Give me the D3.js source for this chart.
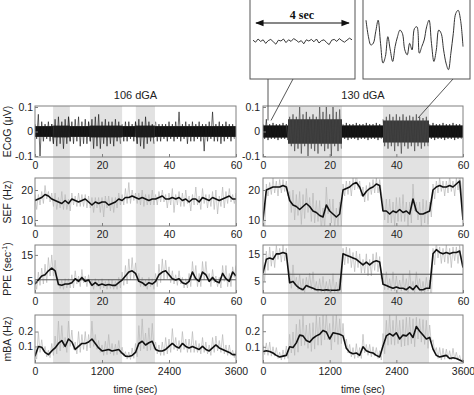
<!DOCTYPE html>
<html>
<head>
<meta charset="utf-8">
<script src="https://cdn.jsdelivr.net/npm/d3@7"></script>
<style>
  body { margin: 0; background: #fff; }
  svg { display: block; font-family: "Liberation Sans", Arial, sans-serif; }
</style>
</head>
<body>
<div id="chart"></div>
<script>
// sample grid, one value per minute
const minutes = d3.range(0, 61);

// shaded epochs (minutes)
const bandsLeft = [[5.4, 10.4], [16.4, 26], [30.1, 35.8]];
const bandsRight = [[7.5, 23.7], [36, 49.8]];

// ECoG envelope (mV) - spike tops / bottoms per minute, and dense core per epoch
const ecogLHi = [0.03,0.07,0.04,0.03,0.04,0.03,0.05,0.06,0.04,0.05, 0.06,0.04,0.05,0.06,0.04,0.05,0.04,0.05,0.06,0.07,
  0.04,0.05,0.04,0.04,0.05,0.04,0.03,0.04,0.04,0.03, 0.04,0.05,0.04,0.06,0.04,0.03,0.04,0.03,0.03,0.03,
  0.04,0.03,0.04,0.08,0.03,0.04,0.03,0.04,0.03,0.04, 0.03,0.03,0.04,0.08,0.03,0.04,0.03,0.04,0.03,0.03, 0.03];
const ecogLLo = [-0.03,-0.1,-0.04,-0.03,-0.04,-0.05,-0.06,-0.05,-0.07,-0.05, -0.04,-0.05,-0.04,-0.06,-0.05,-0.05,-0.04,-0.07,-0.06,-0.07,
  -0.05,-0.06,-0.05,-0.06,-0.04,-0.05,-0.04,-0.04,-0.03,-0.04, -0.05,-0.06,-0.07,-0.05,-0.04,-0.05,-0.04,-0.04,-0.03,-0.04,
  -0.03,-0.04,-0.03,-0.04,-0.03,-0.05,-0.04,-0.04,-0.03,-0.04, -0.08,-0.04,-0.03,-0.04,-0.04,-0.05,-0.04,-0.03,-0.04,-0.03, -0.03];
const ecogLCore = [0.022, 0.024, 0.022, 0.024, 0.022, 0.024, 0.022];

const ecogRHi = [0.03,0.05,0.03,0.035,0.03,0.03,0.035,0.03,
  0.06,0.07,0.06,0.1,0.07,0.08,0.06,0.07,0.06,0.1,0.08,0.1,0.07,0.1,0.08,0.09,
  0.03,0.035,0.03,0.03,0.035,0.03,0.03,0.035,0.03,0.03,0.035,0.03,
  0.05,0.06,0.07,0.06,0.07,0.06,0.07,0.06,0.065,0.06,0.07,0.06,0.055,0.06,
  0.03,0.035,0.03,0.03,0.035,0.03,0.03,0.035,0.03,0.03,0.03];
const ecogRLo = [-0.03,-0.035,-0.03,-0.03,-0.035,-0.03,-0.03,-0.035,
  -0.06,-0.08,-0.07,-0.09,-0.06,-0.1,-0.07,-0.08,-0.09,-0.06,-0.08,-0.07,-0.1,-0.06,-0.08,-0.07,
  -0.03,-0.035,-0.03,-0.03,-0.035,-0.03,-0.03,-0.035,-0.03,-0.03,-0.035,-0.03,
  -0.06,-0.07,-0.06,-0.08,-0.06,-0.09,-0.06,-0.07,-0.06,-0.08,-0.06,-0.07,-0.06,-0.06,
  -0.03,-0.035,-0.03,-0.03,-0.035,-0.03,-0.03,-0.035,-0.03,-0.03,-0.03];
const ecogRCore = [0.025, 0.05, 0.025, 0.045, 0.025];

// SEF (Hz): smoothed trace + raw spread above / below it
const sefL = [16.5,17,17.5,18.5,18,17,16.5,16,15.5,16.5, 15.5,17,16.5,16,16.5,17,16,15,16,15.5,
  16,16,15,15.5,16,17,16.5,17.5,17.5,18, 17.5,17,17.5,17,16.5,17,17,17.5,18,17,
  17,17.5,17,17.5,16.5,17,16,17,17,16, 17.5,17,16.5,17.5,17,16.5,17,17.5,18,17, 17];
const sefLUp = [2,1.5,2,3,1.5,2,2.5,1.5,4,2, 1.5,2,1.5,3,2,1.5,2,2.5,1.5,2, 1.5,2,3,2,1.5,2,2,3,5,2,
  1.5,2,2.5,1.5,2,3,1.5,2,2,1.5, 2,3,1.5,2,2.5,3,2,1.5,4,2, 3,1.5,2,2,3,1.5,4,2,2.5,1.5, 2];
const sefLDn = [3,2,2,1.5,2,2.5,3,2,2,3, 2.5,2,2,1.5,2,3,2,2.5,2,3, 5,2,2,3,2,2,1.5,2,2,1.5,
  2,2,3,2,1.5,2,2,1.5,2,3, 2,5,2,3,2,1.5,3,2,2,2.5, 2,3,2,4,5,2,3,2,2,1.5, 2];

const sefR = [10,20,20.5,21,21,21,21.5,21,
  16.5,15,14.5,13.5,14.5,15.5,14.5,13,12.5,11.5,11,15,13,12,11,12,
  20,20.5,21,22,22.5,21,18,19.5,20.5,21,22,21.5,
  13,13,12,13,12.5,13.5,12.5,13,12,17,13,12,12,12.5,
  13,20,21,21.5,21,21,21.5,21,22,23,10];
const sefRUp = [3,2,2,3,2,2.5,2,2, 3,5,4,6,4,5,3,6,4,5,3,6,4,5,3,4, 2,2.5,2,2,3,2,3,2,2,2.5,2,2,
  3,4,5,3,5,4,6,3,4,5,3,4,5,4, 3,2,2,2.5,2,2,3,2,2,2,1];
const sefRDn = [4,2,2,2,3,2,2,3, 4,5,3,5,4,3,5,4,3,5,4,3,4,5,3,4, 2,2,3,2,2,3,2,3,2,2,3,2,
  3,4,3,5,3,4,3,5,3,4,3,4,3,4, 2,3,2,2,3,2,2,3,2,2,1];

// PPE (1/s)
const ppeL = [4,5.5,7,7.5,9,10,9,3.8,3.5,4, 4,4.5,6,5,6.5,5,5.5,3.5,4.5,3.5, 4,3.5,3.8,3.5,3.5,4.5,5.5,7,8.5,9,
  8,5,4.5,3.5,4.5,4,5,7.5,8.5,9, 7.5,6,5.5,6,4.5,4,5,8.5,6,5, 8.5,7.5,5,6.5,5,4.5,8,6,5,8.5, 7];
const ppeLUp = [2,3,3,4,5,5,4,2,2,2, 2,3,3,2,3,2,2,2,1.5,2, 2,1.5,2,2,1.5,2,3,4,5,5,
  4,3,2,2,2,2,3,4,5,4, 3,3,2,3,2,2,3,4,5,3, 4,5,3,3,2,2,3,5,3,2, 4];
const ppeLDn = [2,2,3,3,2,3,3,1.5,1.5,1.5, 1.5,2,2,2,2,2,2,1.5,1.5,1.5, 1.5,1.5,1.5,1.5,1.5,2,2,3,3,3,
  3,2,1.5,1.5,1.5,2,2,3,3,3, 3,2,2,2,2,1.5,2,3,3,2, 3,2,2,2,2,2,3,3,2,2, 3];

const ppeR = [8,13,13.5,13,15,15,15.5,15,
  4.5,5,3.5,2.5,2,3.5,3,2.5,2,2,1.8,2,1.8,1.8,1.8,2,
  15,14.5,14,13.5,13,12,11,12,11,12,12.5,12,
  4,3.5,3,2.5,3,2.5,2.5,2,3,2,3.5,2,2,2.5,
  2.5,15,16.5,15.5,15,15.5,15,15.5,15.5,16,10];
const ppeRUp = [3,3,4,3,3,2,3,2, 4,6,3,5,4,3,5,6,3,4,5,3,4,6,3,4, 2,3,3,2,3,3,2,3,2,3,3,2,
  4,5,3,6,4,3,5,4,6,3,5,4,3,4, 3,2,3,2,2,3,2,2,2,2,1];
const ppeRDn = [3,4,3,3,2,3,3,5, 2,1.5,1.5,1,1,1,1,1,1,1,1,1,1,1,1,1, 4,3,4,5,3,4,3,5,4,3,4,6,
  2,1.5,1.5,1,1,1,1,1,1,1,1,1,1,1, 5,4,3,4,3,4,5,3,4,3,2];
const ppeThreshold = [5.6, 7.6];

// mBA (Hz)
const mbaL = [0.035,0.10,0.095,0.06,0.045,0.07,0.09,0.12,0.14,0.10, 0.15,0.13,0.08,0.10,0.12,0.12,0.13,0.15,0.12,0.09,
  0.07,0.075,0.08,0.07,0.075,0.08,0.055,0.035,0.033,0.04, 0.06,0.12,0.135,0.11,0.125,0.135,0.08,0.07,0.07,0.08,
  0.10,0.12,0.10,0.09,0.12,0.10,0.09,0.10,0.09,0.08, 0.10,0.08,0.07,0.09,0.11,0.09,0.08,0.07,0.06,0.045, 0.045];
const mbaLUp = [0.03,0.1,0.05,0.04,0.03,0.05,0.08,0.15,0.1,0.06, 0.12,0.08,0.05,0.1,0.06,0.08,0.05,0.12,0.06,0.05,
  0.04,0.06,0.1,0.05,0.04,0.06,0.04,0.03,0.03,0.05, 0.06,0.12,0.15,0.08,0.1,0.12,0.05,0.04,0.06,0.08,
  0.05,0.1,0.06,0.05,0.08,0.05,0.06,0.1,0.05,0.04, 0.06,0.05,0.04,0.07,0.06,0.05,0.1,0.04,0.05,0.03, 0.03];
const mbaLDn = [0.02,0.04,0.03,0.03,0.02,0.03,0.04,0.05,0.05,0.04, 0.05,0.05,0.03,0.04,0.04,0.05,0.04,0.05,0.04,0.03,
  0.03,0.03,0.03,0.03,0.03,0.03,0.02,0.02,0.02,0.02, 0.03,0.05,0.05,0.04,0.05,0.05,0.03,0.03,0.03,0.03,
  0.04,0.04,0.03,0.03,0.04,0.04,0.03,0.04,0.03,0.03, 0.04,0.03,0.03,0.03,0.04,0.03,0.03,0.03,0.02,0.02, 0.02];

const mbaR = [0.07,0.075,0.07,0.06,0.045,0.035,0.04,0.045,
  0.1,0.095,0.125,0.175,0.17,0.14,0.13,0.155,0.17,0.18,0.205,0.195,0.15,0.19,0.185,0.18,
  0.17,0.09,0.065,0.055,0.06,0.045,0.1,0.075,0.065,0.06,0.045,0.035,
  0.105,0.17,0.185,0.17,0.19,0.15,0.175,0.17,0.19,0.16,0.23,0.2,0.175,0.15,
  0.16,0.085,0.045,0.035,0.04,0.045,0.025,0.03,0.025,0.015,0.005];
const mbaRUp = [0.04,0.05,0.06,0.04,0.05,0.03,0.04,0.06,
  0.08,0.1,0.12,0.1,0.13,0.1,0.12,0.1,0.13,0.11,0.1,0.12,0.1,0.11,0.12,0.1,
  0.08,0.06,0.05,0.04,0.06,0.05,0.08,0.04,0.05,0.04,0.05,0.04,
  0.08,0.1,0.12,0.1,0.11,0.12,0.1,0.12,0.1,0.12,0.06,0.08,0.1,0.12,
  0.08,0.06,0.05,0.06,0.05,0.04,0.05,0.06,0.04,0.03,0.02];
const mbaRDn = [0.02,0.03,0.03,0.02,0.02,0.02,0.02,0.02,
  0.04,0.05,0.06,0.07,0.06,0.05,0.06,0.07,0.06,0.07,0.06,0.05,0.07,0.06,0.07,0.06,
  0.05,0.03,0.03,0.03,0.03,0.02,0.04,0.03,0.03,0.02,0.02,0.02,
  0.05,0.06,0.07,0.06,0.07,0.05,0.07,0.06,0.07,0.06,0.08,0.07,0.06,0.06,
  0.04,0.02,0.02,0.02,0.02,0.02,0.01,0.01,0.01,0.01,0.005];

// insets: 4 s of quiet ECoG and 4 s of burst ECoG (arbitrary units)
const quietTrace = [0.2,-0.3,0.5,-0.1,0.3,-0.6,0.1,0.4,-0.2,-0.8, 0.2,0,0.5,-0.4,0.3,-0.1,0.6,0.2,-0.3,0.1,
  -0.7,0.3,0,0.4,-0.2,0.5,-0.5,0.1,0.3,-0.4, -0.9,0.2,0.4,-0.1,0.6,0.1,-0.3,0.2,0.7,0.3];
const burstTrace = [0.6,0.1,-0.15,-0.1,0.25,0.6,-0.1,-0.7,-0.5,0.1, -0.3,-0.65,-0.2,0.1,0.3,0.2,-0.3,-0.45,-0.1,-0.3,
  0.35,0.4,-0.4,-0.2,0,0.4,0.6,-0.1,-0.65,-0.3, 0.3,0.2,-0.3,-0.7,-0.9,-0.4,0.2,0.8,0.9,0.6, -0.2];
// where the insets were cut from (minute, mV) in the 130 dGA ECoG
const calloutQuiet = [1.5, 0.045];
const calloutBurst = [46.5, 0.055];

const xTicks = [0, 20, 40, 60];
const secTicks = [0, 1200, 2400, 3600];

// ---------- layout ----------
const width = 474, height = 395;
const cols = [{x0: 35, x1: 236, bands: bandsLeft, title: "106 dGA"},
              {x0: 263, x1: 463, bands: bandsRight, title: "130 dGA"}];
const rows = [{y0: 106, y1: 157}, {y0: 178, y1: 226}, {y0: 245, y1: 293}, {y0: 315, y1: 363}];

const panels = [
  {row: 0, col: 0, kind: "ecog", hi: ecogLHi, lo: ecogLLo, core: ecogLCore, dom: [-0.104, 0.104], yticks: [-0.1, 0, 0.1], label: "ECoG (μV)"},
  {row: 0, col: 1, kind: "ecog", hi: ecogRHi, lo: ecogRLo, core: ecogRCore, dom: [-0.104, 0.104], yticks: [-0.1, 0, 0.1]},
  {row: 1, col: 0, kind: "trace", mid: sefL, up: sefLUp, dn: sefLDn, dom: [8, 24], yticks: [10, 20], label: "SEF (Hz)"},
  {row: 1, col: 1, kind: "trace", mid: sefR, up: sefRUp, dn: sefRDn, dom: [8, 24], yticks: [10, 20]},
  {row: 2, col: 0, kind: "trace", mid: ppeL, up: ppeLUp, dn: ppeLDn, dom: [0.6, 18.75], yticks: [5, 15], thr: ppeThreshold[0], label: "PPE"},
  {row: 2, col: 1, kind: "trace", mid: ppeR, up: ppeRUp, dn: ppeRDn, dom: [0.8, 18.2], yticks: [5, 15], thr: ppeThreshold[1]},
  {row: 3, col: 0, kind: "trace", mid: mbaL, up: mbaLUp, dn: mbaLDn, dom: [-0.011, 0.311], yticks: [0.1, 0.2], sec: true, label: "mBA (Hz)"},
  {row: 3, col: 1, kind: "trace", mid: mbaR, up: mbaRUp, dn: mbaRDn, dom: [-0.004, 0.304], yticks: [0.1, 0.2], sec: true}
];

const svg = d3.select("#chart").append("svg")
    .attr("width", width)
    .attr("height", height);

svg.append("rect").attr("width", width).attr("height", height).attr("fill", "#fff");

// shaded epochs run through all four rows
cols.forEach(c => {
  const x = d3.scaleLinear().domain([0, 60]).range([c.x0, c.x1]);
  svg.append("g").selectAll("rect")
    .data(c.bands)
    .join("rect")
    .attr("x", d => x(d[0]))
    .attr("width", d => x(d[1]) - x(d[0]))
    .attr("y", rows[0].y0)
    .attr("height", rows[3].y1 - rows[0].y0)
    .attr("fill", "#e2e2e2");
});

// epoch limits: 0, band edges..., 60
function epochs(bands) {
  const edges = [0];
  bands.forEach(b => edges.push(b[0], b[1]));
  edges.push(60);
  return d3.pairs(edges);
}

// raw signal drawn as a saw between an upper value at t and a lower one half a minute later
function saw(tArr, hi, lo) {
  const pts = [];
  tArr.forEach((t, i) => {
    pts.push([t, hi[i]]);
    if (t + 0.5 <= 60) pts.push([t + 0.5, lo[i]]);
  });
  return pts;
}

const yScales = {};

panels.forEach((p, k) => {
  const c = cols[p.col], r = rows[p.row];
  const xm = d3.scaleLinear().domain([0, 60]).range([c.x0, c.x1]);
  const y = d3.scaleLinear().domain(p.dom).range([r.y1, r.y0]);
  yScales[k] = {x: xm, y: y};

  const clipId = "clip" + k;
  svg.append("clipPath").attr("id", clipId)
    .append("rect")
    .attr("x", c.x0).attr("y", r.y0)
    .attr("width", c.x1 - c.x0).attr("height", r.y1 - r.y0);

  const g = svg.append("g").attr("clip-path", `url(#${clipId})`);
  const line = d3.line().x(d => xm(d[0])).y(d => y(d[1]));

  if (p.kind === "ecog") {
    const eps = epochs(c.bands);
    eps.forEach((e, j) => {
      const inBand = j % 2 === 1;
      const col = inBand ? (p.col === 0 ? "#1e1e1e" : "#3a3a3a") : "#111";
      g.append("rect")
        .attr("x", xm(e[0]))
        .attr("width", xm(e[1]) - xm(e[0]))
        .attr("y", y(p.core[j]))
        .attr("height", y(-p.core[j]) - y(p.core[j]))
        .attr("fill", col);
      const idx = minutes.filter(t => t >= e[0] - 0.5 && t < e[1]);
      const pts = saw(idx, idx.map(t => p.hi[t]), idx.map(t => p.lo[t]));
      g.append("path")
        .attr("d", line(pts))
        .attr("fill", "none")
        .attr("stroke", inBand && p.col === 1 ? "#444" : "#1a1a1a")
        .attr("stroke-width", 0.65);
    });
  } else {
    const hi = p.mid.map((v, i) => v + p.up[i]);
    const lo = p.mid.map((v, i) => v - p.dn[i]);
    g.append("path")
      .attr("d", line(saw(minutes, hi, lo)))
      .attr("fill", "none")
      .attr("stroke", "#b8b8b8")
      .attr("stroke-width", 0.7);
    if (p.thr !== undefined) {
      g.append("line")
        .attr("x1", c.x0).attr("x2", c.x1)
        .attr("y1", y(p.thr)).attr("y2", y(p.thr))
        .attr("stroke", "#555")
        .attr("stroke-width", 1);
    }
    g.append("path")
      .attr("d", line(minutes.map((t, i) => [t, p.mid[i]])))
      .attr("fill", "none")
      .attr("stroke", "#111")
      .attr("stroke-width", 1.6)
      .attr("stroke-linejoin", "round");
  }

  // frame
  svg.append("rect")
    .attr("x", c.x0).attr("y", r.y0)
    .attr("width", c.x1 - c.x0).attr("height", r.y1 - r.y0)
    .attr("fill", "none")
    .attr("stroke", "#808080")
    .attr("stroke-width", 1);

  // axes (inward ticks, matlab style)
  const xa = p.sec
    ? d3.axisBottom(d3.scaleLinear().domain([0, 3600]).range([c.x0, c.x1])).tickValues(secTicks)
    : d3.axisBottom(xm).tickValues(xTicks);
  svg.append("g")
    .attr("transform", `translate(0,${r.y1})`)
    .call(xa.tickSizeInner(-3).tickSizeOuter(0).tickPadding(5).tickFormat(d => String(d)))
    .call(s => s.select(".domain").remove())
    .call(s => s.selectAll("line").attr("stroke", "#808080"))
    .call(s => s.selectAll("text").attr("font-size", 10.5).attr("fill", "#222")
      .attr("font-family", "'Liberation Sans', Arial, sans-serif"));

  svg.append("g")
    .attr("transform", `translate(${c.x0},0)`)
    .call(d3.axisLeft(y).tickValues(p.yticks).tickSizeInner(-3).tickSizeOuter(0)
      .tickPadding(p.col === 0 ? 2 : 3).tickFormat(d => String(d)))
    .call(s => s.select(".domain").remove())
    .call(s => s.selectAll("line").attr("stroke", "#808080"))
    .call(s => s.selectAll("text").attr("font-size", 10.5).attr("fill", "#222")
      .attr("font-family", "'Liberation Sans', Arial, sans-serif"));

  // y labels (left column only)
  if (p.label) {
    const cy = (r.y0 + r.y1) / 2;
    const t = svg.append("text")
      .attr("transform", `translate(11,${cy}) rotate(-90)`)
      .attr("text-anchor", "middle")
      .attr("font-size", 10.5)
      .attr("fill", "#222");
    if (p.label === "PPE") {
      t.append("tspan").text("PPE (sec");
      t.append("tspan").attr("font-size", 7).attr("dy", -4).text("-1");
      t.append("tspan").attr("dy", 4).text(")");
    } else {
      t.text(p.label);
    }
  }
});

// column titles and x labels
cols.forEach(c => {
  const cx = (c.x0 + c.x1) / 2;
  svg.append("text")
    .attr("x", cx).attr("y", 99)
    .attr("text-anchor", "middle")
    .attr("font-size", 11)
    .attr("fill", "#222")
    .text(c.title);
  svg.append("text")
    .attr("x", cx).attr("y", 393)
    .attr("text-anchor", "middle")
    .attr("font-size", 10)
    .attr("fill", "#222")
    .text("time (sec)");
});

// ---------- insets ----------
const inset1 = {x0: 250, x1: 355, y0: -1, y1: 79};
const inset2 = {x0: 363, x1: 470, y0: -1, y1: 79};
[inset1, inset2].forEach(b => {
  svg.append("rect")
    .attr("x", b.x0).attr("y", b.y0)
    .attr("width", b.x1 - b.x0).attr("height", b.y1 - b.y0)
    .attr("fill", "#fff")
    .attr("stroke", "#555")
    .attr("stroke-width", 1);
});

const xq = d3.scaleLinear().domain([0, quietTrace.length - 1]).range([253, 352]);
const yq = d3.scaleLinear().domain([-1, 1]).range([45, 37]);
svg.append("path")
  .attr("d", d3.line().x((d, i) => xq(i)).y(d => yq(d))(quietTrace))
  .attr("fill", "none").attr("stroke", "#222").attr("stroke-width", 0.9);

const xb = d3.scaleLinear().domain([0, burstTrace.length - 1]).range([366, 463]);
const yb = d3.scaleLinear().domain([-1, 1]).range([73, 7]);
svg.append("path")
  .attr("d", d3.line().x((d, i) => xb(i)).y(d => yb(d)).curve(d3.curveCatmullRom)(burstTrace))
  .attr("fill", "none").attr("stroke", "#333").attr("stroke-width", 1);

// 4 sec scale arrow
const defs = svg.append("defs");
defs.append("marker").attr("id", "arr")
  .attr("viewBox", "0 0 10 10").attr("refX", 9).attr("refY", 5)
  .attr("markerWidth", 7).attr("markerHeight", 7).attr("orient", "auto-start-reverse")
  .append("path").attr("d", "M0,1L10,5L0,9Z").attr("fill", "#111");
svg.append("line")
  .attr("x1", xq(0) + 3).attr("x2", xq(quietTrace.length - 1) - 3)
  .attr("y1", 23).attr("y2", 23)
  .attr("stroke", "#111").attr("stroke-width", 1.2)
  .attr("marker-start", "url(#arr)").attr("marker-end", "url(#arr)");
svg.append("text")
  .attr("x", 302).attr("y", 19)
  .attr("text-anchor", "middle")
  .attr("font-family", "'Liberation Serif', 'DejaVu Serif', serif")
  .attr("font-weight", "bold")
  .attr("font-size", 12)
  .attr("fill", "#111")
  .text("4 sec");

// callout lines to the ECoG trace
const ex = yScales[1].x, ey = yScales[1].y;
const callouts = [
  [[268, inset1.y1], calloutQuiet],
  [[293, inset1.y1], calloutQuiet],
  [[453, inset2.y1], calloutBurst]
];
svg.append("g").selectAll("line")
  .data(callouts)
  .join("line")
  .attr("x1", d => d[0][0]).attr("y1", d => d[0][1])
  .attr("x2", (d, i) => ex(d[1][0]) + (i === 1 ? 3 : 0)).attr("y2", d => ey(d[1][1]))
  .attr("stroke", "#444").attr("stroke-width", 0.9);
</script>
</body>
</html>
